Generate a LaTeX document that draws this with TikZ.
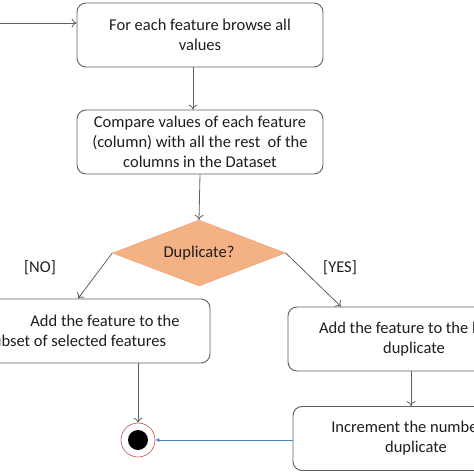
\documentclass[tikz,border=0pt]{standalone}
\usepackage{fontspec}
\setmainfont{Carlito}
\usetikzlibrary{shapes.geometric,calc,arrows.meta}
\definecolor{boxline}{HTML}{606060}
\definecolor{decfill}{HTML}{F4B183}
\definecolor{decline}{HTML}{E8A07A}
\definecolor{txt}{HTML}{1E1E1E}
\definecolor{endred}{HTML}{C0504D}
\definecolor{backarrow}{HTML}{4F81BD}
\begin{document}
\begin{tikzpicture}[x=1pt,y=-1pt]
\tikzstyle{mybox} = [rectangle, rounded corners=9pt, draw=boxline, line width=0.9pt, fill=white, text=txt, minimum height=64pt, inner sep=0pt, align=center, font=\fontsize{16.5}{20}\selectfont] % action box
\tikzstyle{mydec} = [diamond, aspect=2.6, draw=decline, fill=decfill, minimum width=173pt, minimum height=66pt, inner sep=0pt, text=txt, font=\fontsize{16.5}{20}\selectfont] % decision
\tikzstyle{myarrow} = [-{To[length=5pt,width=9pt]}, draw=boxline, line width=0.8pt] % connector
\tikzstyle{mylabel} = [text=txt, font=\fontsize{16.5}{20}\selectfont] % guard label
\clip (0,0) rectangle (474,474);

\node[mybox, minimum width=246pt] (browse) at (200,35) {For each feature browse all\\values};
\node[mybox, minimum width=246pt] (compare) at (200,142) {Compare values of each feature\\(column) with all the rest\ \ of the\\columns in the Dataset};
\node[mydec] (dup) at (199,253) {Duplicate?};
\node[mybox, minimum width=254pt, align=left] (subset) at (83,331) {\hspace*{44pt}Add the feature to the\\subset of selected features};
\node[mybox, minimum width=252pt] (list) at (414,339) {Add the feature to the list of\\duplicate};
\node[mybox, minimum width=246pt] (incr) at (416,438.5) {Increment the number of\\duplicate};
\node[circle, draw=endred, line width=0.6pt, fill=white, minimum size=34pt, inner sep=0pt] (final) at (138,440) {}; % end state
\node[circle, fill=black, minimum size=20pt, inner sep=0pt] (finaldot) at (final) {};
\node[mylabel] (no) at (40,268) {[NO]};
\node[mylabel] (yes) at (340,268) {[YES]};
\coordinate (start) at (0,23);

\draw[myarrow] (start) -- (start -| browse.west);
\draw[myarrow] ([xshift=-7pt]browse.south) -- ([xshift=-7pt]compare.north);
\draw[myarrow] (compare.south) -- (dup.north);
\draw[myarrow] (dup.west) -- ([xshift=-5pt]subset.north);
\draw[myarrow] (dup.east) -- ([xshift=-73pt]list.north);
\draw[myarrow] (subset.south -| final) -- (final.north);
\draw[myarrow] ([xshift=-3pt]list.south) -- ([xshift=-3pt]list.south |- incr.north);
\draw[-{Latex[length=4pt,width=4pt]}, draw=backarrow, line width=0.7pt] (incr.west |- final) -- (final.east);
\end{tikzpicture}
\end{document}
